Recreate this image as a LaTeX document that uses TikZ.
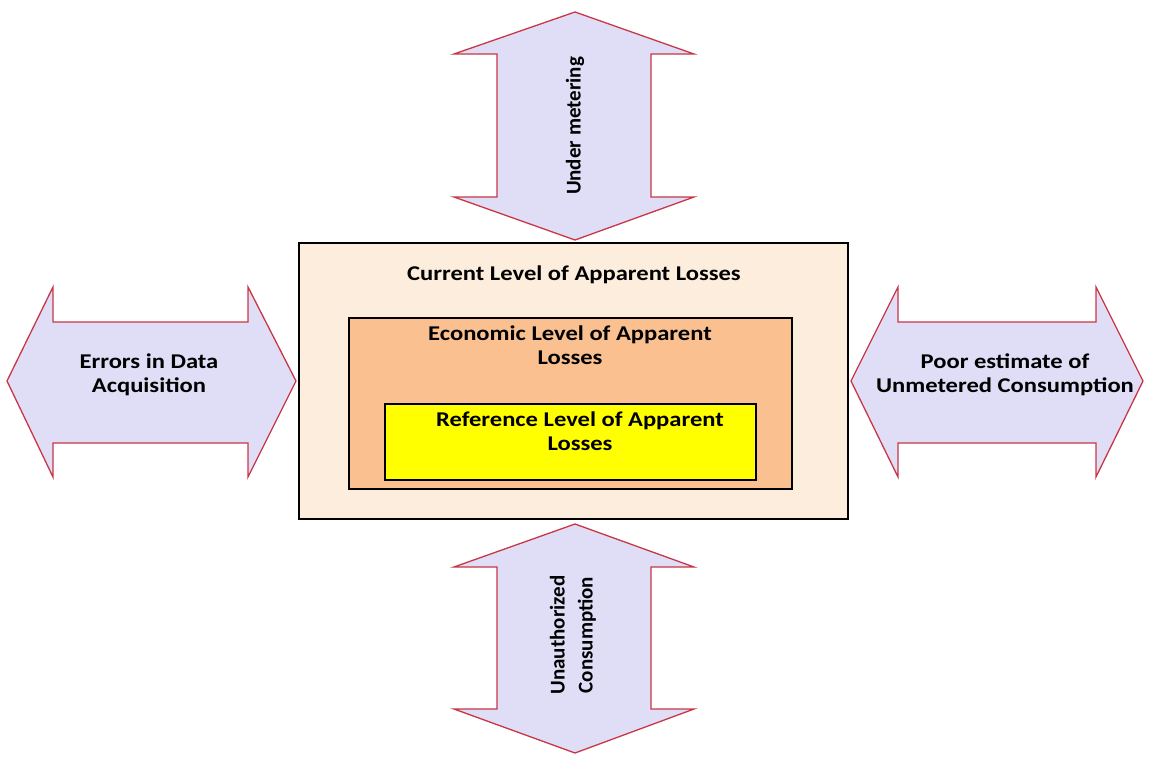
\documentclass[tikz,border=0pt]{standalone}
\usepackage{fontspec}
\setmainfont{Carlito}
\newfontfamily\widefont[FakeStretch=1.17]{Carlito}
\definecolor{arrowfill}{RGB}{224,222,247}
\definecolor{arrowline}{RGB}{200,55,70}
\definecolor{outerfill}{RGB}{252,237,220}
\definecolor{midfill}{RGB}{250,192,144}
\definecolor{innerfill}{RGB}{255,255,0}
\begin{document}
\begin{tikzpicture}[x=1pt,y=-1pt,
  bigarrow/.style={draw=arrowline,fill=arrowfill,line width=1.3pt,line join=miter},
  levelbox/.style={draw=black,line width=2.6pt},
  lbl/.style={font=\widefont\fontsize{21}{24}\selectfont\bfseries,align=center,inner sep=0pt},
  vlbl/.style={font=\fontsize{21}{28}\selectfont\bfseries,align=center,inner sep=0pt,rotate=90}]
\useasboundingbox (0,0) rectangle (1157,769);
\fill[white] (0,0) rectangle (1157,769);
% top arrow
\draw[bigarrow] (575,12) -- (694,54) -- (651,54) -- (651,197) -- (694,197) -- (575,240)
  -- (454,197) -- (497,197) -- (497,54) -- (454,54) -- cycle;
% bottom arrow
\draw[bigarrow] (575,524) -- (694,567) -- (651,567) -- (651,709) -- (694,709) -- (575,753)
  -- (454,709) -- (497,709) -- (497,567) -- (454,567) -- cycle;
% left arrow
\draw[bigarrow] (7,381) -- (53,287) -- (53,322) -- (248,322) -- (248,287) -- (296,381)
  -- (248,477) -- (248,443) -- (53,443) -- (53,477) -- cycle;
% right arrow
\draw[bigarrow] (851,381) -- (898,287) -- (898,322) -- (1096,322) -- (1096,287) -- (1143,381)
  -- (1096,477) -- (1096,443) -- (898,443) -- (898,477) -- cycle;
% boxes
\draw[levelbox,fill=outerfill] (299,243) rectangle (848,519);
\draw[levelbox,fill=midfill] (349,318) rectangle (792,489);
\draw[levelbox,fill=innerfill] (385,404) rectangle (756,480);
% texts
\node[lbl] (cur) at (574,275) {Current Level of Apparent Losses};
\node[lbl] (eco) at (570,345) {Economic Level of Apparent\\Losses};
\node[lbl] (ref) at (580,431) {Reference Level of Apparent\\Losses};
\node[lbl] (err) at (149,375) {Errors in Data\\Acquisition};
\node[lbl] (poor) at (1005,375) {Poor estimate of\\Unmetered Consumption};
\node[vlbl] (under) at (575,126) {Under metering};
\node[vlbl] (unauth) at (573,635) {Unauthorized\\Consumption};
\end{tikzpicture}
\end{document}
